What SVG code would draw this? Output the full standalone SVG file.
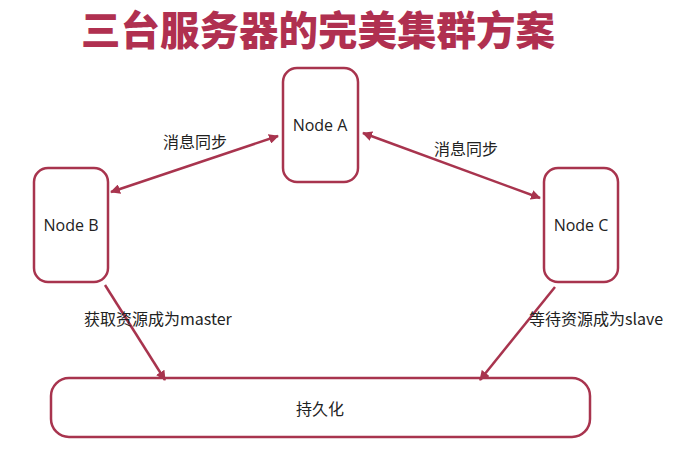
<svg xmlns="http://www.w3.org/2000/svg" width="682" height="452" viewBox="0 0 682 452">
<style>
.n{fill:#fff;stroke:#A8344E;stroke-width:2.5}
.t{font-family:"Open Sans","Noto Sans CJK SC",sans-serif;font-size:16px;fill:#222}
.l{font-family:"Noto Sans CJK SC",sans-serif;font-size:16px;fill:#222}
.c{stroke:#A8344E;stroke-width:2.5;fill:none}
</style>
<defs>
<marker id="a" viewBox="0 0 10 10" refX="9" refY="5" markerWidth="4" markerHeight="4" orient="auto-start-reverse"><path d="M0,0L10,5L0,10z" fill="#A8344E"/></marker>
</defs>
<text x="318" y="45" text-anchor="middle" font-family="Noto Sans CJK SC,sans-serif" font-weight="900" font-size="39.5" fill="#B03050">三台服务器的完美集群方案</text>
<g id="A"><rect class="n" x="283" y="68" width="75" height="114" rx="14"/><text class="t" x="320" y="131" text-anchor="middle">Node A</text></g>
<g id="B"><rect class="n" x="34" y="168" width="74" height="114" rx="14"/><text class="t" x="71" y="231" text-anchor="middle">Node B</text></g>
<g id="C"><rect class="n" x="544" y="168" width="74" height="114" rx="14"/><text class="t" x="581" y="231" text-anchor="middle">Node C</text></g>
<g id="P"><rect class="n" x="51" y="378" width="539" height="59" rx="18"/><text class="l" x="320" y="415" text-anchor="middle">持久化</text></g>
<g id="edges">
<line class="c" x1="278" y1="136" x2="111" y2="192" marker-start="url(#a)" marker-end="url(#a)"/>
<line class="c" x1="363" y1="133" x2="540" y2="198" marker-start="url(#a)" marker-end="url(#a)"/>
<line class="c" x1="105" y1="285" x2="165" y2="380" marker-end="url(#a)"/>
<line class="c" x1="555" y1="287" x2="480" y2="380" marker-end="url(#a)"/>
<text class="l" x="195" y="148" text-anchor="middle">消息同步</text>
<text class="l" x="466" y="155" text-anchor="middle">消息同步</text>
<text class="l" x="84" y="325">获取资源成为master</text>
<text class="l" x="529" y="325">等待资源成为slave</text>
</g>
</svg>
